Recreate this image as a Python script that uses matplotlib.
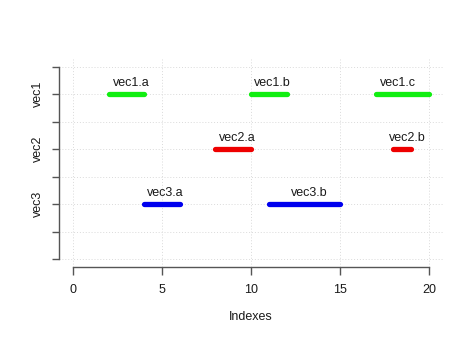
import matplotlib
matplotlib.use("Agg")
import matplotlib.pyplot as plt

# segments: (row, start, end, label, label x)
rows = ["vec1", "vec2", "vec3"]
row_y = [3, 2, 1]
row_colors = ["#11ee11", "#ee0000", "#0000ee"]

seg_row = [0, 0, 0, 1, 1, 2, 2]
seg_start = [2, 10, 17, 8, 18, 4, 11]
seg_end = [4, 12, 20, 10, 19, 6, 15]
seg_label = ["vec1.a", "vec1.b", "vec1.c", "vec2.a", "vec2.b", "vec3.a", "vec3.b"]
label_x = [3.25, 11.2, 18.25, 9.25, 18.8, 5.2, 13.25]

x_ticks = [0, 5, 10, 15, 20]
y_ticks = [0, 0.5, 1, 1.5, 2, 2.5, 3, 3.5]

plt.rcParams["font.family"] = ["Liberation Sans", "DejaVu Sans"]
FS = 9

fig = plt.figure(figsize=(4.74, 3.41), dpi=100)
ax = fig.add_axes([0.124, 0.217, 0.811, 0.610])

for i in range(len(seg_start)):
    r = seg_row[i]
    ax.plot([seg_start[i], seg_end[i]], [row_y[r], row_y[r]],
            color=row_colors[r], linewidth=3.8, solid_capstyle="round", zorder=3)
    ax.annotate(seg_label[i], (label_x[i], row_y[r]), xytext=(0, 5.8),
                textcoords="offset points", ha="center", va="baseline",
                fontsize=FS, color="#1a1a1a", zorder=4)

ax.set_xlim(-0.8, 20.8)
ax.set_ylim(-0.14, 3.64)

for x in x_ticks:
    ax.axvline(x, color="#dadada", linestyle=(0, (1, 2)), linewidth=0.7, zorder=1)
for y in y_ticks:
    ax.axhline(y, color="#dadada", linestyle=(0, (1, 2)), linewidth=0.7, zorder=1)

ax.set_xticks(x_ticks)
ax.set_yticks(y_ticks)
ax.set_yticklabels([rows[row_y.index(y)] if y in row_y else "" for y in y_ticks],
                   rotation=90, va="center")

for s in ["top", "right"]:
    ax.spines[s].set_visible(False)
ax.spines["left"].set_bounds(0, 3.5)
ax.spines["bottom"].set_bounds(0, 20)
for s in ["left", "bottom"]:
    ax.spines[s].set_color("#555555")
    ax.spines[s].set_linewidth(1.0)

ax.tick_params(axis="both", length=5.4, width=1.0, color="#555555",
               labelsize=FS, labelcolor="#1a1a1a")
ax.tick_params(axis="x", pad=6.5)
ax.tick_params(axis="y", pad=5)

ax.set_xlabel("Indexes", fontsize=FS, color="#1a1a1a", labelpad=11)

fig.savefig("out.png", dpi=100, facecolor="white")
